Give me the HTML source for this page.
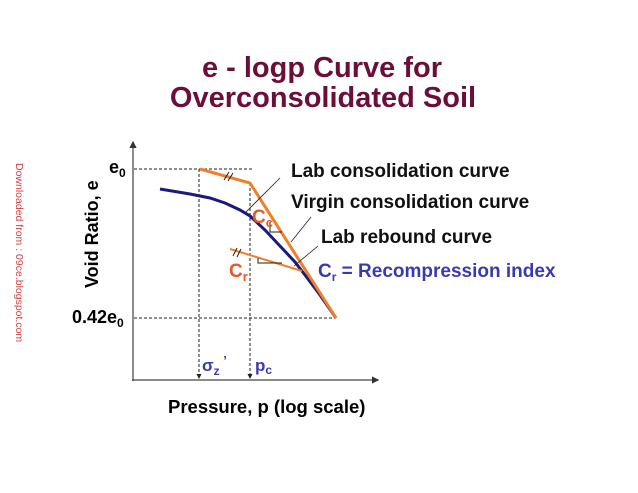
<!DOCTYPE html>
<html><head><meta charset="utf-8"><style>
html,body{margin:0;padding:0;background:#fff;}
svg{display:block;font-family:"Liberation Sans",sans-serif;}
</style></head><body>
<svg width="638" height="493" viewBox="0 0 638 493">
<defs><marker id="ar" markerWidth="6" markerHeight="6" refX="5" refY="3" orient="auto"><path d="M0,0 L6,3 L0,6 z" fill="#333"/></marker>
<marker id="ar2" markerWidth="5" markerHeight="5" refX="4" refY="2.5" orient="auto"><path d="M0,0 L5,2.5 L0,5 z" fill="#222"/></marker></defs>
<g fill="#6b0f3a" font-weight="bold" font-size="29" text-anchor="middle">
<text x="322" y="77">e - logp Curve for</text>
<text x="323" y="107">Overconsolidated Soil</text>
</g>
<text transform="translate(16,163) rotate(90)" font-size="10.5" fill="#d04040">Downloaded from : 09ce.blogspot.com</text>
<text transform="translate(98,288) rotate(-90)" font-size="18" font-weight="bold">Void Ratio, e</text>
<text x="168" y="413" font-size="18.5" font-weight="bold">Pressure, p (log scale)</text>
<line x1="133" y1="381" x2="133" y2="142" stroke="#444" stroke-width="1.2" marker-end="url(#ar)"/>
<line x1="132" y1="380" x2="378" y2="380" stroke="#444" stroke-width="1.2" marker-end="url(#ar)"/>
<text x="109" y="173" font-size="18" font-weight="bold">e<tspan font-size="12" dy="4">0</tspan></text>
<text x="72" y="323" font-size="18" font-weight="bold">0.42e<tspan font-size="12" dy="4">0</tspan></text>
<g stroke="#222" stroke-width="1" stroke-dasharray="3,2" fill="none">
<line x1="134" y1="169" x2="252" y2="169"/>
<line x1="134" y1="318" x2="336" y2="318"/>
<line x1="199" y1="169" x2="199" y2="378" marker-end="url(#ar2)"/>
<line x1="250" y1="183" x2="250" y2="378" marker-end="url(#ar2)"/>
</g>
<polyline points="160,189 190,194 210,198 225,203 240,210 250,216 265,230 280,246 295,262 305,275 320,295 336,318" fill="none" stroke="#1a1a7a" stroke-width="3"/>
<polyline points="200,169 250,183 336,318" fill="none" stroke="#f07f2a" stroke-width="3"/>
<line x1="230" y1="249" x2="302" y2="271" stroke="#f07f2a" stroke-width="2"/>
<g stroke="#222" stroke-width="1" fill="none">
<line x1="224" y1="180" x2="229" y2="172"/><line x1="228" y1="181" x2="233" y2="173"/>
<line x1="233" y1="256" x2="237" y2="248"/><line x1="237" y1="257" x2="241" y2="249"/>
<polyline points="270,222 270,232 282,232"/>
<polyline points="258,258 258,263 282,263"/>
</g>
<g stroke="#222" stroke-width="0.8">
<line x1="280" y1="178" x2="245" y2="213"/>
<line x1="311" y1="217" x2="291" y2="242"/>
<line x1="318" y1="246" x2="294" y2="266"/>
</g>
<text x="252" y="223" font-size="19" font-weight="bold" fill="#e25a2a">C<tspan font-size="13" dy="4">c</tspan></text>
<text x="229" y="277" font-size="19" font-weight="bold" fill="#e25a2a">C<tspan font-size="13" dy="4">r</tspan></text>
<g font-size="19" font-weight="bold" fill="#111">
<text x="291" y="177">Lab consolidation curve</text>
<text x="291" y="208">Virgin consolidation curve</text>
<text x="321" y="243">Lab rebound curve</text>
</g>
<text x="318" y="277" font-size="19" font-weight="bold" fill="#3a3ab0">C<tspan font-size="12" dy="4">r</tspan><tspan dy="-4"> = Recompression index</tspan></text>
<text x="202" y="371" font-size="17" font-weight="bold" fill="#3a3ab0">σ<tspan font-size="12" dy="4">z</tspan><tspan dy="-10" font-size="13"> ’</tspan></text>
<text x="255" y="371" font-size="17" font-weight="bold" fill="#3a3ab0">p<tspan font-size="12" dy="3">c</tspan></text>
</svg>
</body></html>
